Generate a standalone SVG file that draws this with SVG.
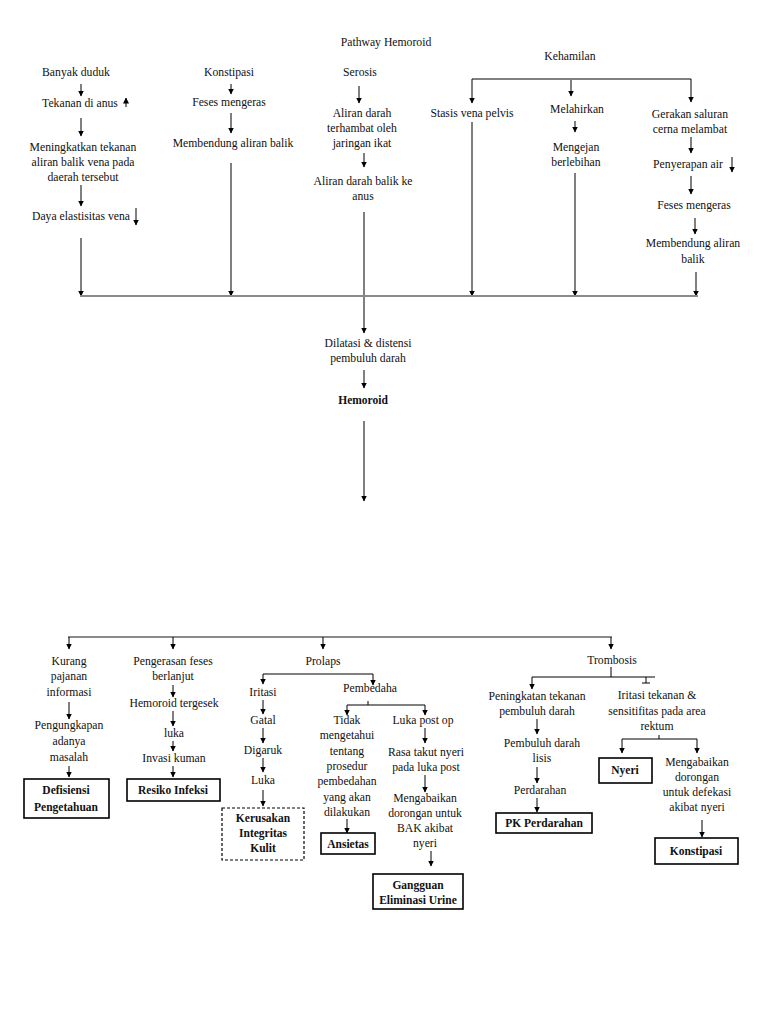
<svg xmlns="http://www.w3.org/2000/svg" width="768" height="1024" viewBox="0 0 768 1024">
<defs>
<marker id="ah" markerWidth="6" markerHeight="7" refX="5.5" refY="3" orient="auto" markerUnits="userSpaceOnUse">
<path d="M0,0 L6,3 L0,6 Z" fill="#000"/>
</marker>
</defs>
<style>
text{font-family:"Liberation Serif","Times New Roman",serif;font-size:11.7px;fill:#111;text-anchor:middle}
.b{font-weight:bold;font-size:11.5px}
.c line,.c path{stroke:#000;stroke-width:1;fill:none}
.c .a{marker-end:url(#ah)}
.c .bus{stroke:#8a8a8a;stroke-width:2}
.box{fill:#fff;stroke:#000;stroke-width:1.6}
.dbox{fill:#fff;stroke:#000;stroke-width:1.2;stroke-dasharray:3,2}
</style>
<rect width="768" height="1024" fill="#fff"/>
<text x="386" y="46">Pathway Hemoroid</text>

<g class="c" id="connectors">
<!-- top left column -->
<line class="a" x1="81" y1="84" x2="81" y2="96"/>
<line class="a" x1="81" y1="118" x2="81" y2="136"/>
<line class="a" x1="81" y1="185" x2="81" y2="206"/>
<line class="a" x1="81" y1="238" x2="81" y2="296"/>
<line class="a" x1="126" y1="107" x2="126" y2="98"/>
<line class="a" x1="136" y1="208" x2="136" y2="225"/>
<!-- konstipasi column -->
<line class="a" x1="231" y1="84" x2="231" y2="94"/>
<line class="a" x1="231" y1="113" x2="231" y2="133"/>
<line class="a" x1="231" y1="163" x2="231" y2="296"/>
<!-- serosis column -->
<line class="a" x1="359" y1="86" x2="359" y2="103"/>
<line class="a" x1="364" y1="153" x2="364" y2="167"/>
<line class="a" x1="364" y1="212" x2="364" y2="333"/>
<!-- kehamilan -->
<line x1="472" y1="79" x2="691" y2="79"/>
<line class="a" x1="472" y1="79" x2="472" y2="103"/>
<line class="a" x1="571" y1="80" x2="571" y2="96"/>
<line class="a" x1="691" y1="79" x2="691" y2="102"/>
<line class="a" x1="472" y1="122" x2="472" y2="296"/>
<line class="a" x1="575" y1="121" x2="575" y2="132"/>
<line class="a" x1="575" y1="173" x2="575" y2="296"/>
<line class="a" x1="691" y1="137" x2="691" y2="153"/>
<line class="a" x1="691" y1="176" x2="691" y2="194"/>
<line class="a" x1="732" y1="157" x2="732" y2="172"/>
<line class="a" x1="695" y1="218" x2="695" y2="234"/>
<line class="a" x1="696" y1="272" x2="696" y2="296"/>
<line class="bus" x1="80" y1="296" x2="698" y2="296"/>
<!-- middle -->
<line class="a" x1="364" y1="370" x2="364" y2="388"/>
<line class="a" x1="364" y1="421" x2="364" y2="501"/>
<!-- bottom bus -->
<line class="bus" x1="68" y1="637" x2="612" y2="637"/>
<line class="a" x1="69" y1="637" x2="69" y2="649"/>
<line class="a" x1="173" y1="637" x2="173" y2="649"/>
<line class="a" x1="323" y1="637" x2="323" y2="649"/>
<line class="a" x1="611" y1="637" x2="611" y2="649"/>
<!-- col1 -->
<line class="a" x1="69" y1="702" x2="69" y2="719"/>
<line class="a" x1="69" y1="766" x2="69" y2="777"/>
<!-- col2 -->
<line class="a" x1="173" y1="685" x2="173" y2="697"/>
<line class="a" x1="173" y1="711" x2="173" y2="726"/>
<line class="a" x1="173" y1="741" x2="173" y2="751"/>
<line class="a" x1="173" y1="766" x2="173" y2="777"/>
<!-- prolaps -->
<line x1="263" y1="674" x2="373" y2="674"/>
<line class="a" x1="263" y1="674" x2="263" y2="684"/>
<line class="a" x1="373" y1="674" x2="373" y2="685"/>
<line class="a" x1="263" y1="700" x2="263" y2="714"/>
<line class="a" x1="263" y1="728" x2="263" y2="743"/>
<line class="a" x1="263" y1="758" x2="263" y2="772"/>
<line class="a" x1="263" y1="790" x2="263" y2="806"/>
<line x1="347" y1="705" x2="425" y2="705"/>
<line x1="368" y1="701" x2="368" y2="705"/>
<line class="a" x1="347" y1="705" x2="347" y2="715"/>
<line class="a" x1="425" y1="705" x2="425" y2="715"/>
<line class="a" x1="347" y1="819" x2="347" y2="833"/>
<line class="a" x1="425" y1="728" x2="425" y2="743"/>
<line class="a" x1="425" y1="775" x2="425" y2="792"/>
<line class="a" x1="431" y1="851" x2="431" y2="866"/>
<!-- trombosis -->
<line x1="611" y1="667" x2="611" y2="677"/>
<line x1="532" y1="677" x2="655" y2="677"/>
<line x1="646" y1="677" x2="646" y2="683"/>
<line x1="642" y1="683" x2="650" y2="683"/>
<line class="a" x1="532" y1="677" x2="532" y2="689"/>
<line class="a" x1="537" y1="719" x2="537" y2="734"/>
<line class="a" x1="537" y1="767" x2="537" y2="783"/>
<line class="a" x1="537" y1="798" x2="537" y2="812"/>
<line x1="659" y1="735" x2="659" y2="739"/>
<line x1="622" y1="739" x2="697" y2="739"/>
<line class="a" x1="622" y1="739" x2="622" y2="753"/>
<line class="a" x1="697" y1="739" x2="697" y2="753"/>
<line class="a" x1="702" y1="820" x2="702" y2="837"/>
</g>

<g id="banyak-duduk"><text x="76" y="76">Banyak duduk</text></g>
<g id="tekanan-anus"><text x="80" y="107">Tekanan di anus</text></g>
<g id="meningkatkan"><text x="83" y="151">Meningkatkan tekanan</text><text x="83" y="166">aliran balik vena pada</text><text x="83" y="181">daerah tersebut</text></g>
<g id="daya-elastisitas"><text x="81" y="220">Daya elastisitas vena</text></g>
<g id="konstipasi-top"><text x="229" y="76">Konstipasi</text></g>
<g id="feses-mengeras-1"><text x="229" y="106">Feses mengeras</text></g>
<g id="membendung-1"><text x="233" y="147">Membendung aliran balik</text></g>
<g id="serosis"><text x="360" y="76">Serosis</text></g>
<g id="aliran-terhambat"><text x="362" y="117">Aliran darah</text><text x="362" y="132">terhambat oleh</text><text x="362" y="147">jaringan ikat</text></g>
<g id="aliran-balik-anus"><text x="363" y="185">Aliran darah balik ke</text><text x="363" y="200">anus</text></g>
<g id="kehamilan"><text x="570" y="60">Kehamilan</text></g>
<g id="stasis"><text x="472" y="117">Stasis vena pelvis</text></g>
<g id="melahirkan"><text x="577" y="113">Melahirkan</text></g>
<g id="mengejan"><text x="576" y="151">Mengejan</text><text x="576" y="166">berlebihan</text></g>
<g id="gerakan"><text x="690" y="118">Gerakan saluran</text><text x="690" y="133">cerna melambat</text></g>
<g id="penyerapan"><text x="688" y="168">Penyerapan air</text></g>
<g id="feses-mengeras-2"><text x="694" y="209">Feses mengeras</text></g>
<g id="membendung-2"><text x="693" y="247">Membendung aliran</text><text x="693" y="263">balik</text></g>

<g id="dilatasi"><text x="368" y="347">Dilatasi &amp; distensi</text><text x="368" y="362">pembuluh darah</text></g>
<g id="hemoroid"><text class="b" x="363" y="404">Hemoroid</text></g>

<g id="kurang-pajanan"><text x="69" y="665">Kurang</text><text x="69" y="680">pajanan</text><text x="69" y="696">informasi</text></g>
<g id="pengungkapan"><text x="69" y="729">Pengungkapan</text><text x="69" y="745">adanya</text><text x="69" y="761">masalah</text></g>
<g id="defisiensi"><rect class="box" x="24" y="779" width="85" height="39"/><text class="b" x="66" y="794">Defisiensi</text><text class="b" x="66" y="811">Pengetahuan</text></g>

<g id="pengerasan"><text x="173" y="665">Pengerasan feses</text><text x="173" y="680">berlanjut</text></g>
<g id="hemoroid-tergesek"><text x="174" y="707">Hemoroid tergesek</text></g>
<g id="luka-1"><text x="174" y="737">luka</text></g>
<g id="invasi"><text x="174" y="762">Invasi kuman</text></g>
<g id="resiko-infeksi"><rect class="box" x="127" y="779" width="93" height="22"/><text class="b" x="173" y="794">Resiko Infeksi</text></g>

<g id="prolaps"><text x="323" y="665">Prolaps</text></g>
<g id="iritasi"><text x="263" y="696">Iritasi</text></g>
<g id="gatal"><text x="263" y="724">Gatal</text></g>
<g id="digaruk"><text x="263" y="754">Digaruk</text></g>
<g id="luka-2"><text x="263" y="784">Luka</text></g>
<g id="kerusakan"><rect class="dbox" x="222" y="808" width="82" height="52"/><text class="b" x="263" y="822">Kerusakan</text><text class="b" x="263" y="837">Integritas</text><text class="b" x="263" y="852">Kulit</text></g>
<g id="pembedaha"><text x="370" y="692">Pembedaha</text></g>
<g id="tidak-mengetahui"><text x="347" y="724">Tidak</text><text x="347" y="739">mengetahui</text><text x="347" y="755">tentang</text><text x="347" y="770">prosedur</text><text x="347" y="785">pembedahan</text><text x="347" y="801">yang akan</text><text x="347" y="816">dilakukan</text></g>
<g id="ansietas"><rect class="box" x="321" y="833" width="54" height="21"/><text class="b" x="348" y="848">Ansietas</text></g>
<g id="luka-post-op"><text x="423" y="724">Luka post op</text></g>
<g id="rasa-takut"><text x="426" y="756">Rasa takut nyeri</text><text x="426" y="771">pada luka post</text></g>
<g id="mengabaikan-bak"><text x="425" y="802">Mengabaikan</text><text x="425" y="817">dorongan untuk</text><text x="425" y="832">BAK akibat</text><text x="425" y="847">nyeri</text></g>
<g id="gangguan"><rect class="box" x="373" y="874" width="90" height="35"/><text class="b" x="418" y="889">Gangguan</text><text class="b" x="418" y="904">Eliminasi Urine</text></g>

<g id="trombosis"><text x="612" y="664">Trombosis</text></g>
<g id="peningkatan"><text x="537" y="700">Peningkatan tekanan</text><text x="537" y="715">pembuluh darah</text></g>
<g id="pembuluh-lisis"><text x="542" y="747">Pembuluh darah</text><text x="542" y="762">lisis</text></g>
<g id="perdarahan"><text x="540" y="794">Perdarahan</text></g>
<g id="pk-perdarahan"><rect class="box" x="496" y="813" width="96" height="20"/><text class="b" x="544" y="827">PK Perdarahan</text></g>
<g id="iritasi-tekanan"><text x="657" y="699">Iritasi tekanan &amp;</text><text x="657" y="715">sensitifitas pada area</text><text x="657" y="730">rektum</text></g>
<g id="nyeri"><rect class="box" x="599" y="758" width="53" height="25"/><text class="b" x="625" y="774">Nyeri</text></g>
<g id="mengabaikan-defekasi"><text x="697" y="766">Mengabaikan</text><text x="697" y="781">dorongan</text><text x="697" y="796">untuk defekasi</text><text x="697" y="811">akibat nyeri</text></g>
<g id="konstipasi-box"><rect class="box" x="655" y="838" width="83" height="26"/><text class="b" x="696" y="855">Konstipasi</text></g>
</svg>
